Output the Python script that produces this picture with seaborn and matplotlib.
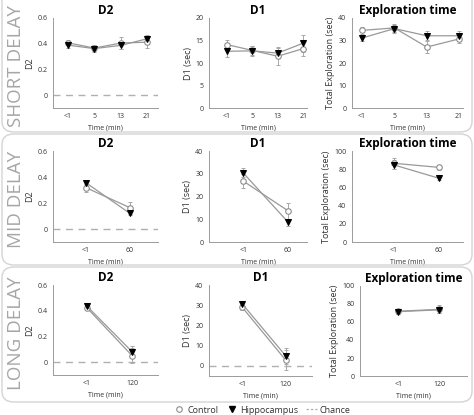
import matplotlib
matplotlib.use("Agg")
import matplotlib.pyplot as plt
from matplotlib.patches import FancyBboxPatch
from matplotlib.lines import Line2D
import seaborn as sns
import numpy as np

sns.set_theme(style="white")
plt.rcParams['font.family'] = ['Open Sans', 'DejaVu Sans']

# ---------------- data ----------------
times_short = ["<1", "5", "13", "21"]
times_mid = ["<1", "60"]
times_long = ["<1", "120"]

# short delay
short_d2_ctrl = [0.407, 0.366, 0.405, 0.412]
short_d2_ctrl_err = [0.02, 0.025, 0.05, 0.045]
short_d2_hip = [0.389, 0.362, 0.387, 0.438]
short_d2_hip_err = [0.025, 0.025, 0.025, 0.03]

short_d1_ctrl = [14.1, 12.8, 11.5, 13.2]
short_d1_ctrl_err = [1.0, 1.0, 2.0, 1.6]
short_d1_hip = [12.6, 12.7, 12.2, 14.4]
short_d1_hip_err = [1.2, 1.1, 1.1, 1.9]

short_ex_ctrl = [34.5, 35.6, 27.1, 30.7]
short_ex_ctrl_err = [1.5, 1.8, 2.5, 2.0]
short_ex_hip = [31.1, 35.3, 32.1, 32.1]
short_ex_hip_err = [1.2, 1.8, 2.0, 2.0]

# mid delay
mid_d2_ctrl = [0.318, 0.164]
mid_d2_ctrl_err = [0.03, 0.045]
mid_d2_hip = [0.356, 0.12]
mid_d2_hip_err = [0.02, 0.015]

mid_d1_ctrl = [26.8, 13.7]
mid_d1_ctrl_err = [3.0, 3.5]
mid_d1_hip = [30.4, 8.7]
mid_d1_hip_err = [2.0, 1.5]

mid_ex_ctrl = [86.5, 82.0]
mid_ex_ctrl_err = [6.0, 3.0]
mid_ex_hip = [84.7, 70.0]
mid_ex_hip_err = [5.0, 2.0]

# long delay
long_d2_ctrl = [0.421, 0.051]
long_d2_ctrl_err = [0.015, 0.06]
long_d2_hip = [0.434, 0.082]
long_d2_hip_err = [0.01, 0.04]

long_d1_ctrl = [29.0, 2.8]
long_d1_ctrl_err = [1.5, 5.0]
long_d1_hip = [30.7, 4.9]
long_d1_hip_err = [1.2, 4.0]

long_ex_ctrl = [72.0, 74.0]
long_ex_ctrl_err = [3.0, 4.5]
long_ex_hip = [71.5, 73.5]
long_ex_hip_err = [2.5, 3.5]

row_labels = ["SHORT DELAY", "MID DELAY", "LONG DELAY"]
col_titles = ["D2", "D1", "Exploration time"]
ylabels = ["D2", "D1 (sec)", "Total Exploration (sec)"]
xlabel = "Time (min)"
legend_labels = ["Control", "Hippocampus", "Chance"]

# ---------------- layout ----------------
W, H = 474, 415
fig = plt.figure(figsize=(W / 100, H / 100), dpi=100)

def fx(px):
    return px / W

def fy(py):
    return 1 - py / H

# rounded boxes for rows (pixel coords: left, top, right, bottom)
boxes = [(2, -12, 472, 132), (2, 134, 472, 265), (2, 267, 472, 402)]
for (l, t, r, b) in boxes:
    p = FancyBboxPatch((fx(l), fy(b)), fx(r - l), (b - t) / H,
                       boxstyle="round,pad=0,rounding_size=0.025",
                       transform=fig.transFigure, facecolor="none",
                       edgecolor="#d4d4d4", linewidth=1.0, zorder=0)
    fig.patches.append(p)

label_y = [66, 199, 333]
for lab, y in zip(row_labels, label_y):
    fig.text(fx(16), fy(y), lab, rotation=90, ha="center", va="center",
             fontsize=13.5, color="#a6a6a6", family=["Open Sans", "DejaVu Sans"],
             fontweight="normal")

# axes pixel rects: (left, top, right, bottom)
rects = [
    [(53, 18, 158, 108), (209, 18, 307, 108), (352, 18, 463, 108)],
    [(53, 151, 158, 242), (209, 151, 307, 242), (352, 151, 463, 242)],
    [(53, 285, 158, 375), (209, 285, 312, 376), (360, 286, 467, 376)],
]
xlims = [
    [(-0.57, 3.42), (-0.7, 3.15), (-0.31, 3.12)],
    [(-0.75, 1.64), (-0.76, 1.42), (-0.93, 1.53)],
    [(-0.76, 1.58), (-0.76, 1.6), (-0.93, 1.68)],
]
ylims = [
    [(-0.1, 0.6), (0, 20), (0, 40)],
    [(-0.1, 0.6), (0, 40), (0, 100)],
    [(-0.1, 0.6), (-5, 40), (0, 100)],
]
yticks = [
    [[0, 0.2, 0.4, 0.6], [0, 5, 10, 15, 20], [0, 10, 20, 30, 40]],
    [[0, 0.2, 0.4, 0.6], [0, 10, 20, 30, 40], [0, 20, 40, 60, 80, 100]],
    [[0, 0.2, 0.4, 0.6], [0, 10, 20, 30, 40], [0, 20, 40, 60, 80, 100]],
]
ytick_labels = [
    [["0", "0.2", "0.4", "0.6"], None, None],
    [["0", "0.2", "0.4", "0.6"], None, None],
    [["0", "0.2", "0.4", "0.6"], None, None],
]
chance = [
    [True, False, False],
    [True, False, False],
    [True, True, False],
]

data = [
    [(times_short, short_d2_ctrl, short_d2_ctrl_err, short_d2_hip, short_d2_hip_err),
     (times_short, short_d1_ctrl, short_d1_ctrl_err, short_d1_hip, short_d1_hip_err),
     (times_short, short_ex_ctrl, short_ex_ctrl_err, short_ex_hip, short_ex_hip_err)],
    [(times_mid, mid_d2_ctrl, mid_d2_ctrl_err, mid_d2_hip, mid_d2_hip_err),
     (times_mid, mid_d1_ctrl, mid_d1_ctrl_err, mid_d1_hip, mid_d1_hip_err),
     (times_mid, mid_ex_ctrl, mid_ex_ctrl_err, mid_ex_hip, mid_ex_hip_err)],
    [(times_long, long_d2_ctrl, long_d2_ctrl_err, long_d2_hip, long_d2_hip_err),
     (times_long, long_d1_ctrl, long_d1_ctrl_err, long_d1_hip, long_d1_hip_err),
     (times_long, long_ex_ctrl, long_ex_ctrl_err, long_ex_hip, long_ex_hip_err)],
]

line_col = "#999999"
err_col = "#a8a8a8"
spine_col = "#9a9a9a"
text_col = "#333333"

for r in range(3):
    for c in range(3):
        l, t, rr, b = rects[r][c]
        ax = fig.add_axes([fx(l), fy(b), fx(rr - l), (b - t) / H])
        times, ctrl, ctrl_e, hip, hip_e = data[r][c]
        if chance[r][c]:
            ax.axhline(0, color="#b0b0b0", linestyle=(0, (5, 4)), linewidth=1.0, zorder=1)
        ax.errorbar(times, ctrl, yerr=ctrl_e, fmt="none", ecolor=err_col,
                    elinewidth=0.7, capsize=1.5, capthick=0.7, zorder=2)
        ax.errorbar(times, hip, yerr=hip_e, fmt="none", ecolor=err_col,
                    elinewidth=0.7, capsize=1.5, capthick=0.7, zorder=2)
        sns.lineplot(x=times, y=ctrl, ax=ax, color=line_col, linewidth=0.9,
                     marker="o", markersize=4, markerfacecolor="white",
                     markeredgecolor="#8c8c8c", markeredgewidth=0.8,
                     sort=False, zorder=3)
        sns.lineplot(x=times, y=hip, ax=ax, color=line_col, linewidth=0.9,
                     marker="v", markersize=4, markerfacecolor="black",
                     markeredgecolor="black", sort=False, zorder=4)
        ax.set_xlim(*xlims[r][c])
        ax.set_ylim(*ylims[r][c])
        ax.set_yticks(yticks[r][c])
        if ytick_labels[r][c] is not None:
            ax.set_yticklabels(ytick_labels[r][c])
        sns.despine(ax=ax)
        for s in ("left", "bottom"):
            ax.spines[s].set_color(spine_col)
            ax.spines[s].set_linewidth(0.7)
        ax.tick_params(axis="both", labelsize=5, colors=text_col, length=2,
                       width=0.6, pad=2, color=spine_col, direction="out")
        ax.tick_params(axis="x", length=1.5)
        ax.set_xlabel(xlabel, fontsize=5, color=text_col, labelpad=3)
        ax.set_ylabel(ylabels[c], fontsize=6.5, color=text_col, labelpad=2)
        ax.set_title(col_titles[c], fontsize=8.5, fontweight="bold", color="black", pad=3)

# legend
handles = [
    Line2D([], [], color="none", marker="o", markerfacecolor="white",
           markeredgecolor="#8c8c8c", markersize=4, markeredgewidth=0.8),
    Line2D([], [], color="none", marker="v", markerfacecolor="black",
           markeredgecolor="black", markersize=4),
    Line2D([], [], color="#b0b0b0", linestyle=(0, (2, 1.5)), linewidth=0.9),
]
fig.legend(handles, legend_labels, loc="center", bbox_to_anchor=(fx(262), fy(410)),
           ncol=3, frameon=False, fontsize=6.5, handlelength=1.2,
           handletextpad=0.3, columnspacing=0.9, labelcolor=text_col)

fig.savefig("out.png", dpi=100)
